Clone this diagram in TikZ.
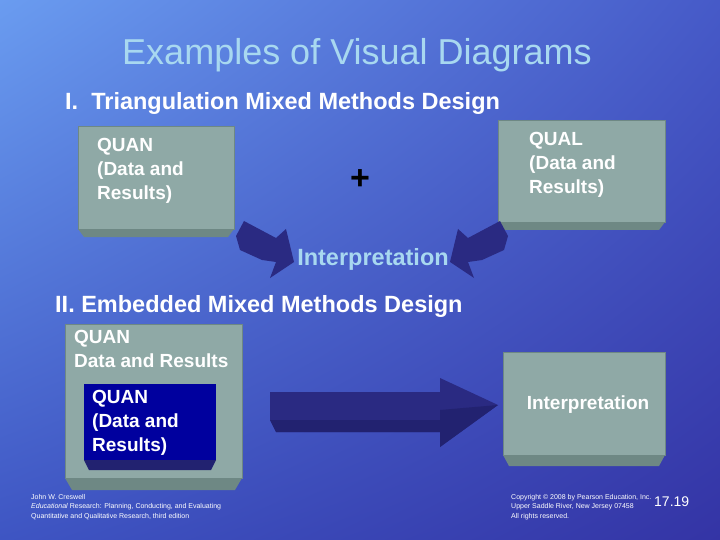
\documentclass[tikz,border=0pt]{standalone}
\usepackage{fontspec}
\setmainfont{Liberation Sans}
\usetikzlibrary{shadings}
\definecolor{face}{HTML}{8FA9A6}
\definecolor{bev}{HTML}{6E8884}
\definecolor{navy}{HTML}{2A2A82}
\definecolor{navyd}{HTML}{222270}
\definecolor{ttl}{HTML}{A8D8F0}
\definecolor{inner}{HTML}{00009E}
\definecolor{bgul}{RGB}{106,156,240}
\definecolor{bgur}{RGB}{70,90,200}
\definecolor{bgll}{RGB}{62,85,195}
\definecolor{bglr}{RGB}{52,52,165}
\begin{document}
\begin{tikzpicture}[x=1pt,y=-1pt,
 lbl/.style={text=white,font=\bfseries\fontsize{19}{24}\selectfont,align=left,anchor=north west,inner sep=0},
 head/.style={text=white,font=\bfseries\fontsize{23.5}{28}\selectfont,anchor=west,inner sep=0},
 small/.style={text=white,font=\fontsize{7}{9.5}\selectfont,align=left,anchor=north west,inner sep=0}]
\useasboundingbox (0,0) rectangle (720,540);
\shade[upper left=bgul,upper right=bgur,lower left=bgll,lower right=bglr] (0,0) rectangle (720,540);
\node[text=ttl,font=\fontsize{36}{40}\selectfont] (title) at (357,55) {Examples of Visual Diagrams};
\node[head] (h1) at (65,103) {I.\ \ Triangulation Mixed Methods Design};
\node[head] (h2) at (55,306) {II. Embedded Mixed Methods Design};
% box1
\fill[bev] (78,229) -- (234,229) -- (228,237) -- (84,237) -- cycle;
\fill[face,draw=bev,line width=0.6pt] (78,126) rectangle (234,229);
\node[lbl] (b1) at (97,138) {QUAN\\(Data and\\Results)};
% box2
\fill[bev] (498,222) -- (665,222) -- (659,230) -- (504,230) -- cycle;
\fill[face,draw=bev,line width=0.6pt] (498,120) rectangle (665,222);
\node[lbl] (b2) at (529,132) {QUAL\\(Data and\\Results)};
\node[font=\bfseries\fontsize{34}{34}\selectfont] (plus) at (360,180) {+};
% curved arrows
\fill[navy] (236,236) -- (244,221) -- (276,238) -- (286,229) -- (294,262) -- (270,278) -- (276,262) -- (262,260) -- (240,250) -- cycle;
\fill[navy] (508,236) -- (500,221) -- (468,238) -- (458,229) -- (450,262) -- (474,278) -- (468,262) -- (482,260) -- (504,250) -- cycle;
\node[text=ttl,font=\bfseries\fontsize{23.5}{28}\selectfont] (interp) at (373,259) {Interpretation};
% box3
\fill[bev] (65,478) -- (242,478) -- (235,490) -- (72,490) -- cycle;
\fill[face,draw=bev,line width=0.6pt] (65,324) rectangle (242,478);
\node[lbl] (b3) at (74,330) {QUAN\\Data and Results};
\fill[navyd] (84,460) -- (216,460) -- (211,470) -- (89,470) -- cycle;
\fill[inner] (84,384) rectangle (216,460);
\node[lbl] (b3i) at (92,390) {QUAN\\(Data and\\Results)};
% box4
\fill[bev] (503,455) -- (665,455) -- (659,466) -- (509,466) -- cycle;
\fill[face,draw=bev,line width=0.6pt] (503,352) rectangle (665,455);
\node[text=white,font=\bfseries\fontsize{19}{24}\selectfont] (b4) at (588,405) {Interpretation};
% big arrow
\fill[navy] (270,392) -- (440,392) -- (440,378) -- (498,405) -- (440,447) -- (440,432) -- (276,432) -- (270,420) -- cycle;
\fill[navyd] (270,420) -- (440,420) -- (440,432) -- (276,432) -- cycle;
\fill[navyd] (440,410) -- (498,405) -- (440,447) -- cycle;
% footer
\node[small] (f1) at (31,494) {John W. Creswell\\\textit{Educational} Research: Planning, Conducting, and Evaluating\\Quantitative and Qualitative Research, third edition};
\node[small] (f2) at (511,494) {Copyright © 2008 by Pearson Education, Inc.\\Upper Saddle River, New Jersey 07458\\All rights reserved.};
\node[text=white,font=\fontsize{14}{16}\selectfont,anchor=north west,inner sep=0] (pg) at (654,497) {17.19};
\end{tikzpicture}
\end{document}
